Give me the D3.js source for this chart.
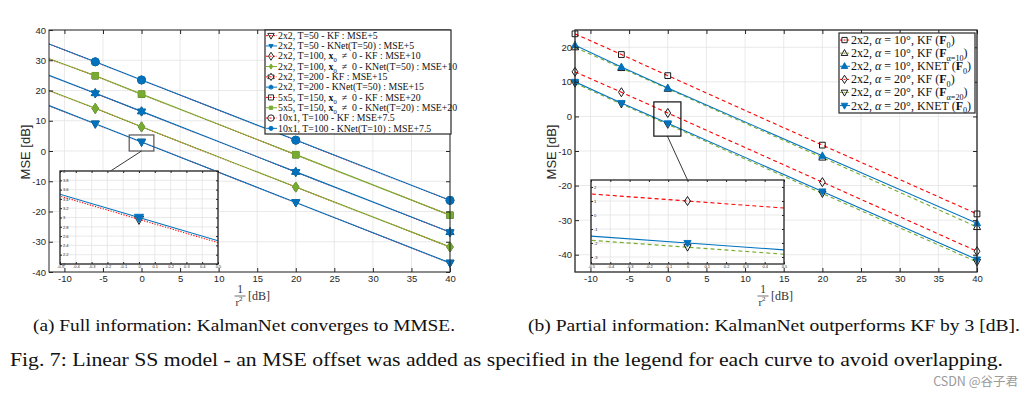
<!DOCTYPE html>
<html>
<head>
<meta charset="utf-8">
<script src="https://cdn.jsdelivr.net/npm/d3@7"></script>
<style>
body { margin: 0; background: #fff; }
svg { font-family: "Liberation Sans", Arial, sans-serif; }
</style>
</head>
<body>
<svg id="fig" width="1033" height="396"></svg>
<script>
const BLUE = '#0072BD', GREEN = '#77AC30', RED = '#FF0000';
const SERIF = '"Liberation Serif", "Times New Roman", serif';

// SNR points (1/r^2 [dB]) shared by both panels
const xSnr = [-12, -6, 0, 20, 40];

// panel (a): raw MSE [dB], the legend offset gets added when plotting
const kfT50 = [9.96, 3.96, -2.04, -22.04, -42.04];
const knetT50 = [10, 4, -2, -22, -42];
const kfT100 = [9.96, 4.06, -2.04, -21.94, -41.74];
const knetT100 = [10, 4.1, -2, -21.9, -41.7];
const kfT200 = [9.96, 4.06, -1.94, -21.94, -41.84];
const knetT200 = [10, 4.1, -1.9, -21.9, -41.8];
const kf5x5 = [10.46, 4.86, -1.24, -21.24, -41.24];
const knet5x5 = [10.5, 4.9, -1.2, -21.2, -41.2];
const kf10x1 = [27.86, 21.96, 15.96, -3.94, -23.84];
const knet10x1 = [27.9, 22, 16, -3.9, -23.8];

// panel (b): MSE [dB], no offset
const kfA10F0 = [23.9, 17.9, 11.8, -8.3, -28.2];
const kfA10Fa = [20, 14, 8, -11.9, -32];
const knetA10 = [20.6, 14.3, 8.2, -11.4, -30.9];
const kfA20F0 = [12.9, 7, 1, -19, -39];
const kfA20Fa = [9.6, 3.6, -2.3, -22.3, -42.1];
const knetA20 = [10, 3.9, -2, -21.7, -41.4];

// tick labels
const xTicks = [-10, -5, 0, 5, 10, 15, 20, 25, 30, 35, 40];
const yTicksA = [-40, -30, -20, -10, 0, 10, 20, 30, 40];
const yTicksB = [-40, -30, -20, -10, 0, 10, 20];
const insetXTicks = [-0.5, -0.4, -0.3, -0.2, -0.1, 0, 0.1, 0.2, 0.3, 0.4, 0.5];
const insetYTicksA = [2, 2.2, 2.4, 2.6, 2.8, 3, 3.2, 3.4, 3.6, 3.8, 4];
const insetYTicksB = [-3, -2, -1, 0, 1, 2];

const NE = '\u2002≠\u2002';
const kfStyle = {line: RED, dash: '1.2,1.5', mfill: 'none', medge: '#111'};
const seriesA = [
    {label: '2x2, T=50 - KF : MSE+5', mse: kfT50, off: 5, shape: 'triDown', ...kfStyle},
    {label: '2x2, T=50 - KNet(T=50) : MSE+5', mse: knetT50, off: 5, shape: 'triDown', line: BLUE, mfill: BLUE, medge: BLUE},
    {label: `2x2, T=100, {b:x}{sub:0}${NE}0 - KF : MSE+10`, mse: kfT100, off: 10, shape: 'diamond', ...kfStyle},
    {label: `2x2, T=100, {b:x}{sub:0}${NE}0 - KNet(T=50) : MSE+10`, mse: knetT100, off: 10, shape: 'diamond', line: GREEN, mfill: GREEN, medge: GREEN},
    {label: '2x2, T=200 - KF : MSE+15', mse: kfT200, off: 15, shape: 'hexagram', ...kfStyle},
    {label: '2x2, T=200 - KNet(T=50) : MSE+15', mse: knetT200, off: 15, shape: 'hexagram', line: BLUE, mfill: BLUE, medge: BLUE},
    {label: `5x5, T=150, {b:x}{sub:0}${NE}0 - KF : MSE+20`, mse: kf5x5, off: 20, shape: 'square', ...kfStyle},
    {label: `5x5, T=150, {b:x}{sub:0}${NE}0 - KNet(T=20) : MSE+20`, mse: knet5x5, off: 20, shape: 'square', line: GREEN, mfill: GREEN, medge: GREEN},
    {label: '10x1, T=100 - KF : MSE+7.5', mse: kf10x1, off: 7.5, shape: 'circle', ...kfStyle},
    {label: '10x1, T=100 - KNet(T=10) : MSE+7.5', mse: knet10x1, off: 7.5, shape: 'circle', line: BLUE, mfill: BLUE, medge: BLUE}
];

const seriesB = [
    {label: '2x2, {i:α} = 10°, KF ({b:F}{sub:0})', mse: kfA10F0, shape: 'square', line: RED, dash: '4,3', mfill: 'none', medge: '#000'},
    {label: '2x2, {i:α} = 10°, KF ({b:F}{sub:α=10})', mse: kfA10Fa, shape: 'triUp', line: GREEN, dash: '4,3', mfill: 'none', medge: '#000'},
    {label: '2x2, {i:α} = 10°, KNET ({b:F}{sub:0})', mse: knetA10, shape: 'triUp', line: BLUE, mfill: BLUE, medge: BLUE},
    {label: '2x2, {i:α} = 20°, KF ({b:F}{sub:0})', mse: kfA20F0, shape: 'diamond', line: RED, dash: '4,3', mfill: 'none', medge: '#000'},
    {label: '2x2, {i:α} = 20°, KF ({b:F}{sub:α=20})', mse: kfA20Fa, shape: 'triDown', line: GREEN, dash: '4,3', mfill: 'none', medge: '#000'},
    {label: '2x2, {i:α} = 20°, KNET ({b:F}{sub:0})', mse: knetA20, shape: 'triDown', line: BLUE, mfill: BLUE, medge: BLUE}
];

// marker outlines, s is roughly the half size
const shapePts = {
    square: s => [[-s, -s], [s, -s], [s, s], [-s, s]],
    triUp: s => [[0, -s * 1.1], [s, s * 0.7], [-s, s * 0.7]],
    triDown: s => [[0, s * 1.1], [s, -s * 0.7], [-s, -s * 0.7]],
    diamond: s => [[0, -s * 1.25], [s * 0.8, 0], [0, s * 1.25], [-s * 0.8, 0]],
    hexagram: s => d3.range(12).map(i => {
        let a = -Math.PI / 2 + i * Math.PI / 6, r = i % 2 ? s * 0.66 : s * 1.15;
        return [r * Math.cos(a), r * Math.sin(a)];
    })
};
function markerPath(shape, s) {
    if (shape === 'circle') {
        let p = d3.path();
        p.arc(0, 0, s, 0, 2 * Math.PI);
        p.closePath();
        return p.toString();
    }
    if (shape === 'square') s *= 0.8;
    return d3.line().curve(d3.curveLinearClosed)(shapePts[shape](s));
}

// small markup: {b:..} bold, {i:..} italic, {sub:..} subscript
function richText(sel, str, fs) {
    let cur = 0;
    str.split(/(\{[a-z]+:[^}]*\})/).filter(p => p).forEach(p => {
        let m = p.match(/^\{([a-z]+):([^}]*)\}$/);
        let kind = m ? m[1] : 'n', txt = m ? m[2] : p;
        let off = kind === 'sub' ? fs * 0.3 : 0;
        let t = sel.append('tspan').text(txt).attr('dy', off - cur);
        cur = off;
        if (kind === 'b') t.attr('font-weight', 'bold');
        if (kind === 'i') t.attr('font-style', 'italic');
        if (kind === 'sub') t.attr('font-size', fs * 0.68);
    });
}

let clipCount = 0;
class MsePanel {
    constructor(svg, box, xDomain, yDomain) {
        this.svg = svg;
        this.box = box;
        this.x = d3.scaleLinear().domain(xDomain).range([box.left, box.right]);
        this.y = d3.scaleLinear().domain(yDomain).range([box.bottom, box.top]);
        this.g = svg.append('g');
        this.clipId = 'clip' + (clipCount++);
        this.g.append('clipPath').attr('id', this.clipId)
            .append('rect')
            .attr('x', box.left).attr('y', box.top)
            .attr('width', box.right - box.left).attr('height', box.bottom - box.top);
        this.g.append('rect')
            .attr('x', box.left).attr('y', box.top)
            .attr('width', box.right - box.left).attr('height', box.bottom - box.top)
            .attr('fill', '#fff');
    }

    drawGrid(xt, yt) {
        let b = this.box;
        let grid = this.g.append('g').attr('stroke', '#e3e3e3').attr('stroke-width', 0.8);
        grid.selectAll('.gx').data(xt).join('line')
            .attr('x1', d => this.x(d)).attr('x2', d => this.x(d))
            .attr('y1', b.top).attr('y2', b.bottom);
        grid.selectAll('.gy').data(yt).join('line')
            .attr('y1', d => this.y(d)).attr('y2', d => this.y(d))
            .attr('x1', b.left).attr('x2', b.right);
    }

    drawAxes(xt, yt, opt) {
        let b = this.box;
        let fmt = d => String(+d.toFixed(1));
        let style = sel => {
            sel.select('.domain').remove();
            sel.selectAll('line').attr('stroke', '#262626');
            sel.selectAll('text').attr('font-size', opt.fs).attr('fill', '#262626');
        };
        let ax = this.g.append('g');
        ax.append('g').attr('transform', `translate(0,${b.bottom})`)
            .call(d3.axisBottom(this.x).tickValues(xt).tickSize(-opt.tick).tickPadding(opt.padX).tickFormat(fmt))
            .call(style);
        ax.append('g').attr('transform', `translate(0,${b.top})`)
            .call(d3.axisTop(this.x).tickValues(xt).tickSize(-opt.tick).tickFormat(''))
            .call(style);
        let left = ax.append('g').attr('transform', `translate(${b.left},0)`)
            .call(d3.axisLeft(this.y).tickValues(yt).tickSize(-opt.tick).tickPadding(opt.padY).tickFormat(fmt))
            .call(style);
        if (opt.labelsInside) {
            left.selectAll('text').attr('x', opt.padY).attr('text-anchor', 'start');
        }
        ax.append('g').attr('transform', `translate(${b.right},0)`)
            .call(d3.axisRight(this.y).tickValues(yt).tickSize(-opt.tick).tickFormat(''))
            .call(style);
        // d3 axes set their own sans-serif family, let the svg default win
        ax.selectAll('g').attr('font-family', null);
        ax.append('rect')
            .attr('x', b.left).attr('y', b.top)
            .attr('width', b.right - b.left).attr('height', b.bottom - b.top)
            .attr('fill', 'none').attr('stroke', opt.boxColor || '#262626').attr('stroke-width', opt.boxWidth || 1);
    }

    addSeries(series, markIdx, ms, lw) {
        let xd = this.x.domain(), yd = this.y.domain();
        let line = d3.line().x(d => this.x(d[0])).y(d => this.y(d[1]));
        series.forEach(s => {
            let pts = s.mse.map((v, i) => [xSnr[i], v + (s.off || 0)]);
            this.g.append('path')
                .attr('clip-path', `url(#${this.clipId})`)
                .attr('d', line(pts))
                .attr('fill', 'none')
                .attr('stroke', s.line)
                .attr('stroke-width', lw)
                .attr('stroke-dasharray', s.dash || null);
            let shown = pts.filter((p, i) => markIdx.includes(i)
                && p[0] >= xd[0] && p[0] <= xd[1] && p[1] >= yd[0] && p[1] <= yd[1]);
            this.g.append('g')
                .selectAll('path')
                .data(shown)
                .join('path')
                .attr('d', markerPath(s.shape, ms))
                .attr('transform', d => `translate(${this.x(d[0])},${this.y(d[1])})`)
                .attr('fill', s.mfill)
                .attr('stroke', s.medge)
                .attr('stroke-width', 0.9);
        });
    }

    addZoomBox(zb, inset) {
        let x0 = this.x(zb.x[0]), x1 = this.x(zb.x[1]);
        let y0 = this.y(zb.y[1]), y1 = this.y(zb.y[0]);
        this.g.append('rect')
            .attr('x', x0).attr('y', y0).attr('width', x1 - x0).attr('height', y1 - y0)
            .attr('fill', 'none').attr('stroke', zb.color).attr('stroke-width', 1.2);
        this.g.append('line')
            .attr('x1', (x0 + x1) / 2).attr('y1', y1)
            .attr('x2', inset.x(zb.insetX)).attr('y2', inset.box.top)
            .attr('stroke', '#222').attr('stroke-width', 0.9);
    }

    addLegend(series, lg) {
        let g = this.svg.append('g');
        g.append('rect')
            .attr('x', lg.x).attr('y', lg.y).attr('width', lg.w).attr('height', lg.h)
            .attr('fill', '#fff').attr('stroke', '#262626').attr('stroke-width', 1.2);
        series.forEach((s, i) => {
            let cy = lg.y + lg.pad + lg.row * (i + 0.5);
            g.append('line')
                .attr('x1', lg.x + 1).attr('x2', lg.x + lg.lineLen)
                .attr('y1', cy).attr('y2', cy)
                .attr('stroke', s.line).attr('stroke-width', 1)
                .attr('stroke-dasharray', s.dash ? '2,1.5' : null);
            let filled = s.mfill !== 'none';
            g.append('path')
                .attr('d', markerPath(s.shape, filled ? lg.msFill : lg.ms))
                .attr('transform', `translate(${lg.x + lg.lineLen / 2},${cy})`)
                .attr('fill', s.mfill).attr('stroke', s.medge).attr('stroke-width', 0.9);
            let t = g.append('text')
                .attr('x', lg.x + lg.lineLen + 1).attr('y', cy + lg.fs * 0.33)
                .attr('font-size', lg.fs)
                .attr('font-family', SERIF)
                .attr('fill', '#111');
            richText(t, s.label, lg.fs);
        });
    }

    addLabels(lb) {
        this.svg.append('text')
            .attr('transform', `translate(${lb.yx},${lb.yy}) rotate(-90)`)
            .attr('text-anchor', 'middle')
            .attr('font-size', 13)
            .attr('fill', '#262626')
            .text('MSE [dB]');
        // x label: fraction 1 / r^2 followed by [dB]
        let g = this.svg.append('g').attr('fill', '#333').attr('font-family', SERIF);
        g.append('text').attr('x', lb.fx).attr('y', 293).attr('text-anchor', 'middle')
            .attr('font-size', 11.5).text('1');
        g.append('line').attr('x1', lb.fx - 5.5).attr('x2', lb.fx + 5.5).attr('y1', 296).attr('y2', 296)
            .attr('stroke', '#333').attr('stroke-width', 0.7);
        let r = g.append('text').attr('x', lb.fx - 1).attr('y', 305.5).attr('text-anchor', 'middle')
            .attr('font-size', 11);
        r.append('tspan').text('r');
        r.append('tspan').text('2').attr('font-size', 7).attr('dy', -4.5);
        g.append('text').attr('x', lb.fx + 8).attr('y', 299.5)
            .attr('font-size', 12).text('[dB]');
    }
}

const svg = d3.select('#fig');

// ---- panel (a)
const panelA = new MsePanel(svg, {left: 49, right: 450, top: 30, bottom: 272}, [-12, 40], [-40, 40]);
panelA.drawGrid(xTicks, yTicksA);
panelA.addSeries(seriesA, [1, 2, 3, 4], 4, 1.1);
panelA.drawAxes(xTicks, yTicksA, {fs: 9.5, tick: 4, padX: 3, padY: 3});

const insetA = new MsePanel(svg, {left: 60, right: 218, top: 171, bottom: 264}, [-0.5, 0.5], [2, 4]);
panelA.addZoomBox({x: [-1.6, 1.6], y: [0, 5.3], insetX: -0.18, color: '#555'}, insetA);
insetA.drawGrid(insetXTicks, insetYTicksA);
insetA.addSeries(seriesA.slice(0, 2), [1, 2, 3, 4], 4.6, 1.1);
insetA.drawAxes(insetXTicks, insetYTicksA, {fs: 4, tick: 2, padX: 1, padY: 3, labelsInside: true, boxWidth: 1.3});

panelA.addLegend(seriesA, {x: 265, y: 30, w: 186, h: 104, pad: 0.5, row: 10.3, lineLen: 12, fs: 9.8, ms: 3.2, msFill: 2.1});
panelA.addLabels({yx: 30, yy: 152, fx: 240});

// ---- panel (b)
const panelB = new MsePanel(svg, {left: 575, right: 977, top: 30, bottom: 272}, [-12, 40], [-45, 25]);
panelB.drawGrid(xTicks, yTicksB);
panelB.addSeries(seriesB, [0, 1, 2, 3, 4], 3.6, 1.1);
panelB.drawAxes(xTicks, yTicksB, {fs: 9.5, tick: 4, padX: 3, padY: 3, boxWidth: 1.3});

const insetB = new MsePanel(svg, {left: 591, right: 784, top: 180, bottom: 264}, [-0.5, 0.5], [-3.5, 2.5]);
panelB.addZoomBox({x: [-1.8, 1.7], y: [-5.7, 4.2], insetX: 0, color: '#111'}, insetB);
insetB.drawGrid(insetXTicks, insetYTicksB);
insetB.addSeries(seriesB, [0, 1, 2, 3, 4], 3.6, 1.1);
insetB.drawAxes(insetXTicks, insetYTicksB, {fs: 4, tick: 2, padX: 1, padY: 3, labelsInside: true, boxWidth: 1.3});

panelB.addLegend(seriesB, {x: 839, y: 33, w: 136, h: 80, pad: 0.5, row: 13.1, lineLen: 11, fs: 12, ms: 3.3, msFill: 3.3});
panelB.addLabels({yx: 556, yy: 152, fx: 763});

// ---- captions
const captions = svg.append('g')
    .attr('font-family', SERIF)
    .attr('fill', '#111');
captions.append('text').attr('x', 33).attr('y', 331).attr('font-size', 17)
    .attr('textLength', 422).attr('lengthAdjust', 'spacingAndGlyphs')
    .text('(a) Full information: KalmanNet converges to MMSE.');
captions.append('text').attr('x', 528).attr('y', 331).attr('font-size', 17)
    .attr('textLength', 492).attr('lengthAdjust', 'spacingAndGlyphs')
    .text('(b) Partial information: KalmanNet outperforms KF by 3 [dB].');
captions.append('text').attr('x', 10).attr('y', 366).attr('font-size', 19)
    .attr('textLength', 993).attr('lengthAdjust', 'spacingAndGlyphs')
    .text('Fig. 7: Linear SS model - an MSE offset was added as specified in the legend for each curve to avoid overlapping.');
svg.append('text').attr('x', 1018).attr('y', 386).attr('text-anchor', 'end')
    .attr('font-size', 12.5).attr('fill', '#9a9a9a')
    .attr('font-family', '"Noto Sans CJK SC", "Noto Sans", sans-serif')
    .text('CSDN @谷子君');
</script>
</body>
</html>
